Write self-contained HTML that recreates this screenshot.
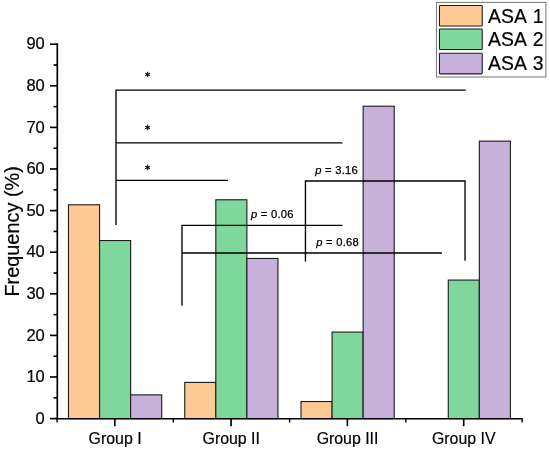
<!DOCTYPE html>
<html><head><meta charset="utf-8"><title>Frequency chart</title>
<style>
html,body{margin:0;padding:0;background:#fff;}
body{width:550px;height:450px;overflow:hidden;}
svg{display:block;}
text{font-family:"Liberation Sans","DejaVu Sans",sans-serif;fill:#000;}
text.dj{font-family:"DejaVu Sans","Liberation Sans",sans-serif;}
</style></head><body>
<svg width="550" height="450" viewBox="0 0 550 450">
<rect x="0" y="0" width="550" height="450" fill="#fff"/>

<g stroke="#1a1a1a" stroke-width="1.1">
<rect x="68.50" y="204.78" width="31.07" height="213.82" fill="#FFC995"/>
<rect x="99.57" y="240.55" width="31.07" height="178.05" fill="#7ED79B"/>
<rect x="130.64" y="394.89" width="31.07" height="23.71" fill="#C7B1DA"/>
<rect x="184.75" y="382.41" width="31.07" height="36.19" fill="#FFC995"/>
<rect x="215.82" y="199.78" width="31.07" height="218.82" fill="#7ED79B"/>
<rect x="246.89" y="258.44" width="31.07" height="160.16" fill="#C7B1DA"/>
<rect x="301.00" y="401.54" width="31.07" height="17.06" fill="#FFC995"/>
<rect x="332.07" y="332.07" width="31.07" height="86.53" fill="#7ED79B"/>
<rect x="363.14" y="106.18" width="31.07" height="312.42" fill="#C7B1DA"/>
<rect x="448.27" y="280.07" width="31.07" height="138.53" fill="#7ED79B"/>
<rect x="479.34" y="141.13" width="31.07" height="277.47" fill="#C7B1DA"/>
</g>
<g stroke="#000" stroke-width="1.65" fill="none" stroke-linecap="butt">
<path d="M57.3 43.35 V419.45"/>
<path d="M56.45 418.75 H522.8" stroke-width="1.55"/>
<path d="M50 418.60 H57.3"/>
<path d="M50 377.00 H57.3"/>
<path d="M50 335.40 H57.3"/>
<path d="M50 293.80 H57.3"/>
<path d="M50 252.20 H57.3"/>
<path d="M50 210.60 H57.3"/>
<path d="M50 169.00 H57.3"/>
<path d="M50 127.40 H57.3"/>
<path d="M50 85.80 H57.3"/>
<path d="M50 44.20 H57.3"/>
<path d="M53.6 397.80 H57.3"/>
<path d="M53.6 356.20 H57.3"/>
<path d="M53.6 314.60 H57.3"/>
<path d="M53.6 273.00 H57.3"/>
<path d="M53.6 231.40 H57.3"/>
<path d="M53.6 189.80 H57.3"/>
<path d="M53.6 148.20 H57.3"/>
<path d="M53.6 106.60 H57.3"/>
<path d="M53.6 65.00 H57.3"/>
<path d="M114.80 418.60 V426.2"/>
<path d="M231.10 418.60 V426.2"/>
<path d="M347.40 418.60 V426.2"/>
<path d="M463.70 418.60 V426.2"/>
<path d="M57.10 418.60 V422.6" stroke-width="1.4"/>
<path d="M173.35 418.60 V422.6" stroke-width="1.4"/>
<path d="M289.60 418.60 V422.6" stroke-width="1.4"/>
<path d="M405.85 418.60 V422.6" stroke-width="1.4"/>
<path d="M522.10 418.60 V422.6" stroke-width="1.4"/>
</g>
<g font-size="16.5" text-anchor="end" stroke="#000" stroke-width="0.2">
<text x="44.8" y="423.80">0</text>
<text x="44.8" y="382.20">10</text>
<text x="44.8" y="340.60">20</text>
<text x="44.8" y="299.00">30</text>
<text x="44.8" y="257.40">40</text>
<text x="44.8" y="215.80">50</text>
<text x="44.8" y="174.20">60</text>
<text x="44.8" y="132.60">70</text>
<text x="44.8" y="91.00">80</text>
<text x="44.8" y="49.40">90</text>
</g>
<g font-size="15.9" text-anchor="middle" stroke="#000" stroke-width="0.2">
<text x="115.1" y="443.5">Group I</text>
<text x="231.25" y="443.5">Group II</text>
<text x="347.55" y="443.5">Group III</text>
<text x="463.75" y="443.5">Group IV</text>
</g>
<text font-size="19.9" stroke="#000" stroke-width="0.2" text-anchor="middle" transform="translate(18.7 231.4) rotate(-90)">Frequency (%)</text>
<g stroke="#000" stroke-width="1.35" fill="none">
<path d="M116.0 225.0 V90.1 H465.8"/>
<path d="M116.0 142.9 H342.5"/>
<path d="M116.0 180.4 H228"/>
<path d="M182.0 305.7 V225.4 H342.4"/>
<path d="M182.0 252.95 H441.9"/>
<path d="M305.45 261.6 V181.0 H465.05 V260.7"/>
</g>
<g font-size="10" text-anchor="middle" font-weight="bold" stroke="#000" stroke-width="0.3">
<text class="dj" x="147.5" y="79.55">*</text>
<text class="dj" x="147.5" y="133.05">*</text>
<text class="dj" x="147.5" y="173.25">*</text>
</g>
<g font-size="11.2" stroke="#000" stroke-width="0.25">
<text x="315.2" y="174.1" textLength="42.5" lengthAdjust="spacing"><tspan font-style="italic">p</tspan> = 3.16</text>
<text x="251.0" y="218.2" textLength="42.5" lengthAdjust="spacing"><tspan font-style="italic">p</tspan> = 0.06</text>
<text x="316.2" y="245.9" textLength="42.5" lengthAdjust="spacing"><tspan font-style="italic">p</tspan> = 0.68</text>
</g>
<rect x="436.5" y="2.45" width="109.4" height="74.55" fill="#fff" stroke="#808080" stroke-width="1.1"/>
<g stroke="#1a1a1a" stroke-width="1.05">
<rect x="439.45" y="5.45" width="42.8" height="20.55" rx="0.8" fill="#FFC995"/>
<rect x="439.45" y="29.0" width="42.8" height="20.55" rx="0.8" fill="#7ED79B"/>
<rect x="439.45" y="53.3" width="42.8" height="20.55" rx="0.8" fill="#C7B1DA"/>
</g>
<g font-size="19.4" letter-spacing="0.1" stroke="#000" stroke-width="0.2">
<text x="488.0" y="22.6">ASA <tspan dx="1.2">1</tspan></text>
<text x="488.0" y="46.1">ASA <tspan dx="1.2">2</tspan></text>
<text x="488.0" y="69.7">ASA <tspan dx="1.2">3</tspan></text>
</g>
</svg></body></html>
